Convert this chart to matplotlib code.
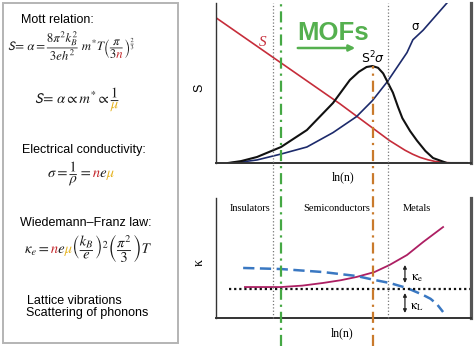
import matplotlib
matplotlib.use('Agg')
import numpy as np
from urllib.parse import unquote
import matplotlib.pyplot as plt
import matplotlib.colors as mcolors
import matplotlib.patheffects as pe
from matplotlib.patches import Rectangle, FancyArrowPatch
from matplotlib.font_manager import FontProperties
from matplotlib.textpath import TextToPath
from matplotlib.path import Path

plt.rcParams['mathtext.fontset'] = 'stix'
plt.rcParams['font.family'] = ['Liberation Sans', 'DejaVu Sans']

# ---------------- data (ln(n) axis runs 0..10) ----------------
lnn_S = [0.0, 1.35, 2.52, 3.69, 4.86, 5.62, 6.21, 6.80, 7.40, 7.70, 7.99, 8.30, 8.57, 8.96, 9.3]
S_vals = [0.91, 0.76, 0.63, 0.50, 0.37, 0.28, 0.21, 0.14, 0.08, 0.055, 0.035, 0.02, 0.01, 0.003, 0.0]

lnn_sigma = [0.49, 1.0, 1.62, 2.56, 3.57, 4.59, 5.51, 6.13, 6.72, 7.48, 7.71, 8.11, 9.04]
sigma_vals = [0.0, 0.006, 0.019, 0.056, 0.10, 0.19, 0.29, 0.39, 0.51, 0.69, 0.77, 0.83, 1.0]

lnn_pf = [0.49, 1.0, 1.62, 2.56, 3.57, 4.59, 5.25, 5.6, 5.90, 6.13, 6.35, 6.55, 6.72, 6.93,
          7.13, 7.30, 7.60, 7.87, 8.2, 8.50, 9.04, 9.82]
pf_vals = [0.0, 0.012, 0.0375, 0.10, 0.206, 0.375, 0.519, 0.57, 0.60, 0.606, 0.595, 0.56, 0.506, 0.44,
           0.35, 0.28, 0.20, 0.14, 0.075, 0.031, 0.0, 0.0]

lnn_ke = [1.15, 2.56, 3.4, 4.20, 4.9, 5.51, 6.21, 6.80, 7.48, 8.11, 8.89]
kappa_e_vals = [0.258, 0.258, 0.27, 0.292, 0.315, 0.342, 0.383, 0.442, 0.525, 0.633, 0.758]

lnn_kl = [1.08, 2.56, 4.20, 5.51, 6.21, 6.80, 7.48, 8.11, 8.40, 8.65, 8.89]
kappa_l_vals = [0.417, 0.408, 0.383, 0.35, 0.317, 0.292, 0.25, 0.192, 0.16, 0.115, 0.05]

kappa_base = 0.242
regime_bounds = [2.25, 6.74]
mof_line = 2.56
optimum_line = 6.15
regime_labels = ['Insulators', 'Semiconductors', 'Metals']
regime_label_x = [1.35, 4.75, 7.87]
kappa_arrow_x = 7.40
kappa_e_arrow = [0.292, 0.442]
kappa_l_arrow = [0.042, 0.208]

# ---------------- figure ----------------
W, H = 474, 346
fig = plt.figure(figsize=(W / 100, H / 100), dpi=100)
fig.patch.set_facecolor('white')


def fx(px):
    return px / W


def fy(py):
    return 1 - py / H


def ptext(px, py, s, **kw):
    return fig.text(fx(px), fy(py), s, **kw)


# left panel box
box = Rectangle((fx(3), fy(343)), (178 - 3) / W, (343 - 3) / H, transform=fig.transFigure,
                facecolor='white', edgecolor='#b4b4b4', lw=1.4)
fig.add_artist(box)

RED = '#c3262b'
YEL = '#e6b422'
color_chars = {0x6e: RED, 0x1d45b: RED, 0x3bc: YEL, 0x1d707: YEL, 0xb5: YEL}
_t2p = TextToPath()


class GlyphColors(pe.AbstractPathEffect):
    """Draw a mathtext string glyph by glyph, colouring selected characters."""

    def __init__(self, s, colors):
        super().__init__()
        glyph_info, glyph_map, rects = _t2p.get_glyphs_mathtext(FontProperties(), s)
        self.parts = []
        for gid, x, y, scale in glyph_info:
            verts, codes = glyph_map[gid]
            verts = np.asarray(verts, dtype=float)
            if len(verts) == 0:
                continue
            try:
                code = int(unquote(gid).rsplit('-', 1)[1], 16)
            except Exception:
                code = None
            col = colors.get(code)
            self.parts.append((verts * scale + [x, y], np.asarray(codes), col))
        for verts, codes in rects:
            self.parts.append((np.asarray(verts, dtype=float), np.asarray(codes), None))

    def draw_path(self, renderer, gc, tpath, affine, rgbFace=None):
        gc0 = renderer.new_gc()
        gc0.copy_properties(gc)
        gc0.set_snap(False)
        gc0.set_linewidth(0)
        for verts, codes, col in self.parts:
            rgb = rgbFace if col is None else mcolors.to_rgba(col)
            renderer.draw_path(gc0, Path(verts, codes), affine, rgb)
        gc0.restore()


def formula(px, py, s, size):
    return ptext(px, py, s, fontsize=size, ha='left', va='baseline', color='#1a1a1a',
                 path_effects=[GlyphColors(s, color_chars)])


TS = 9
ptext(21, 23, 'Mott relation:', fontsize=TS, ha='left', va='baseline')
formula(8, 50, r"$\mathsf{S\!=}\,\alpha = \dfrac{8\pi^2 k_B^2}{3eh^2}\;m^{*}T\left(\dfrac{\pi}{3n}\right)^{\frac{2}{3}}$", 9.2)
formula(35, 103, r"$\mathsf{S\!=}\,\alpha \propto m^{*} \propto \dfrac{1}{\mu}$", 10.5)
ptext(22, 153, 'Electrical conductivity:', fontsize=TS, ha='left', va='baseline')
formula(48, 177, r"$\sigma = \dfrac{1}{\rho} = ne\mu$", 10.5)
ptext(20, 226, 'Wiedemann\u2013Franz law:', fontsize=TS, ha='left', va='baseline')
formula(25, 253, r"$\kappa_e = ne\mu\left(\dfrac{k_B}{e}\right)^2\left(\dfrac{\pi^2}{3}\right)T$", 10.5)
ptext(27, 304, 'Lattice vibrations', fontsize=TS, ha='left', va='baseline')
ptext(26, 316, 'Scattering of phonons', fontsize=TS, ha='left', va='baseline')

# ---------------- axes ----------------
L, R = 215.5, 471.5
ax1 = fig.add_axes([fx(L), fy(163), (R - L) / W, (163 - 3) / H])
ax2 = fig.add_axes([fx(L), fy(318), (R - L) / W, (318 - 198) / H])
for ax in (ax1, ax2):
    ax.set_xlim(0, 10)
    ax.set_ylim(0, 1)
    ax.set_xticks([])
    ax.set_yticks([])
    ax.spines['top'].set_visible(False)
    ax.spines['left'].set_color('#333333')
    ax.spines['left'].set_linewidth(1.0)
    ax.spines['bottom'].set_color('#333333')
    ax.spines['bottom'].set_linewidth(1.4)
    ax.spines['right'].set_color('#555555')
    ax.spines['right'].set_linewidth(2.3)
    ax.patch.set_alpha(0)

ax1.plot(lnn_S, S_vals, color='#c62d3a', lw=1.2, solid_capstyle='round')
ax1.plot(lnn_sigma, sigma_vals, color='#1c2a6b', lw=1.2)
ax1.plot(lnn_pf, pf_vals, color='#111111', lw=1.5)

ax2.plot(lnn_ke, kappa_e_vals, color='#ad1f63', lw=1.3)
ax2.plot(lnn_kl, kappa_l_vals, color='#3a78c2', lw=1.8, dashes=(4.5, 2.2))
ax2.plot([0.53, 10], [kappa_base, kappa_base], color='#111111', lw=1.6, dashes=(1, 1.3))

for xv, lab in zip(regime_label_x, regime_labels):
    ax2.text(xv, 0.91, lab, ha='center', va='center', fontsize=7.5,
             family=['Liberation Serif', 'DejaVu Serif'])

ax2.annotate('', xy=(kappa_arrow_x, kappa_e_arrow[1]), xytext=(kappa_arrow_x, kappa_e_arrow[0]),
             arrowprops=dict(arrowstyle='<|-|>', color='#222222', lw=0.9, mutation_scale=5,
                             shrinkA=0, shrinkB=0))
ax2.annotate('', xy=(kappa_arrow_x, kappa_l_arrow[1]), xytext=(kappa_arrow_x, kappa_l_arrow[0]),
             arrowprops=dict(arrowstyle='<|-|>', color='#222222', lw=0.9, mutation_scale=5,
                             shrinkA=0, shrinkB=0))
ptext(417, 278, r'$\mathrm{\kappa_e}$', fontsize=9, ha='center', va='center')
ptext(417, 307, r'$\mathrm{\kappa_L}$', fontsize=9, ha='center', va='center')

# overlay for vertical guide lines
ax0 = fig.add_axes([fx(L), 0, (R - L) / W, 1], zorder=5)
ax0.set_xlim(0, 10)
ax0.set_ylim(0, 1)
ax0.axis('off')
ax0.patch.set_alpha(0)
for xb in regime_bounds:
    ax0.plot([xb, xb], [fy(318), fy(3)], color='#777777', lw=0.9, ls=':')
ax0.plot([mof_line, mof_line], [0, 1], color='#45a844', lw=1.6, dashes=(5, 2.2, 1, 2.2))
ax0.plot([optimum_line, optimum_line], [0, fy(66)], color='#c97a2c', lw=1.6,
         dashes=(5, 2.2, 1, 2.2))

# labels
ptext(333, 33, 'MOFs', fontsize=18.5, fontweight='bold', color='#55b04f', ha='center', va='center')
arr = FancyArrowPatch((fx(295), fy(48)), (fx(358), fy(48)), transform=fig.transFigure,
                      arrowstyle='-|>', mutation_scale=9, color='#55b04f', lw=1.8)
fig.add_artist(arr)
ptext(263, 43, 'S', fontsize=11, style='italic', color='#c62d3a', ha='center', va='center',
      family=['Liberation Serif', 'DejaVu Serif'])
ptext(415, 27, '\u03c3', fontsize=8.5, ha='center', va='center', family=['DejaVu Sans'])
ptext(373, 58, r'$\mathsf{S}^{2}\sigma$', fontsize=9, ha='center', va='center',
      math_fontfamily='dejavusans')
ptext(199, 88, 'S', fontsize=9, rotation=90, ha='center', va='center')
ptext(199, 262, '\u03ba', fontsize=10, rotation=90, ha='center', va='center',
      family=['Liberation Serif', 'DejaVu Serif'])
ptext(343, 177, 'ln(n)', fontsize=8.5, ha='center', va='center',
      family=['Liberation Serif', 'DejaVu Serif'])
ptext(342, 333, 'ln(n)', fontsize=8.5, ha='center', va='center',
      family=['Liberation Serif', 'DejaVu Serif'])

fig.savefig('out.png', dpi=100)
